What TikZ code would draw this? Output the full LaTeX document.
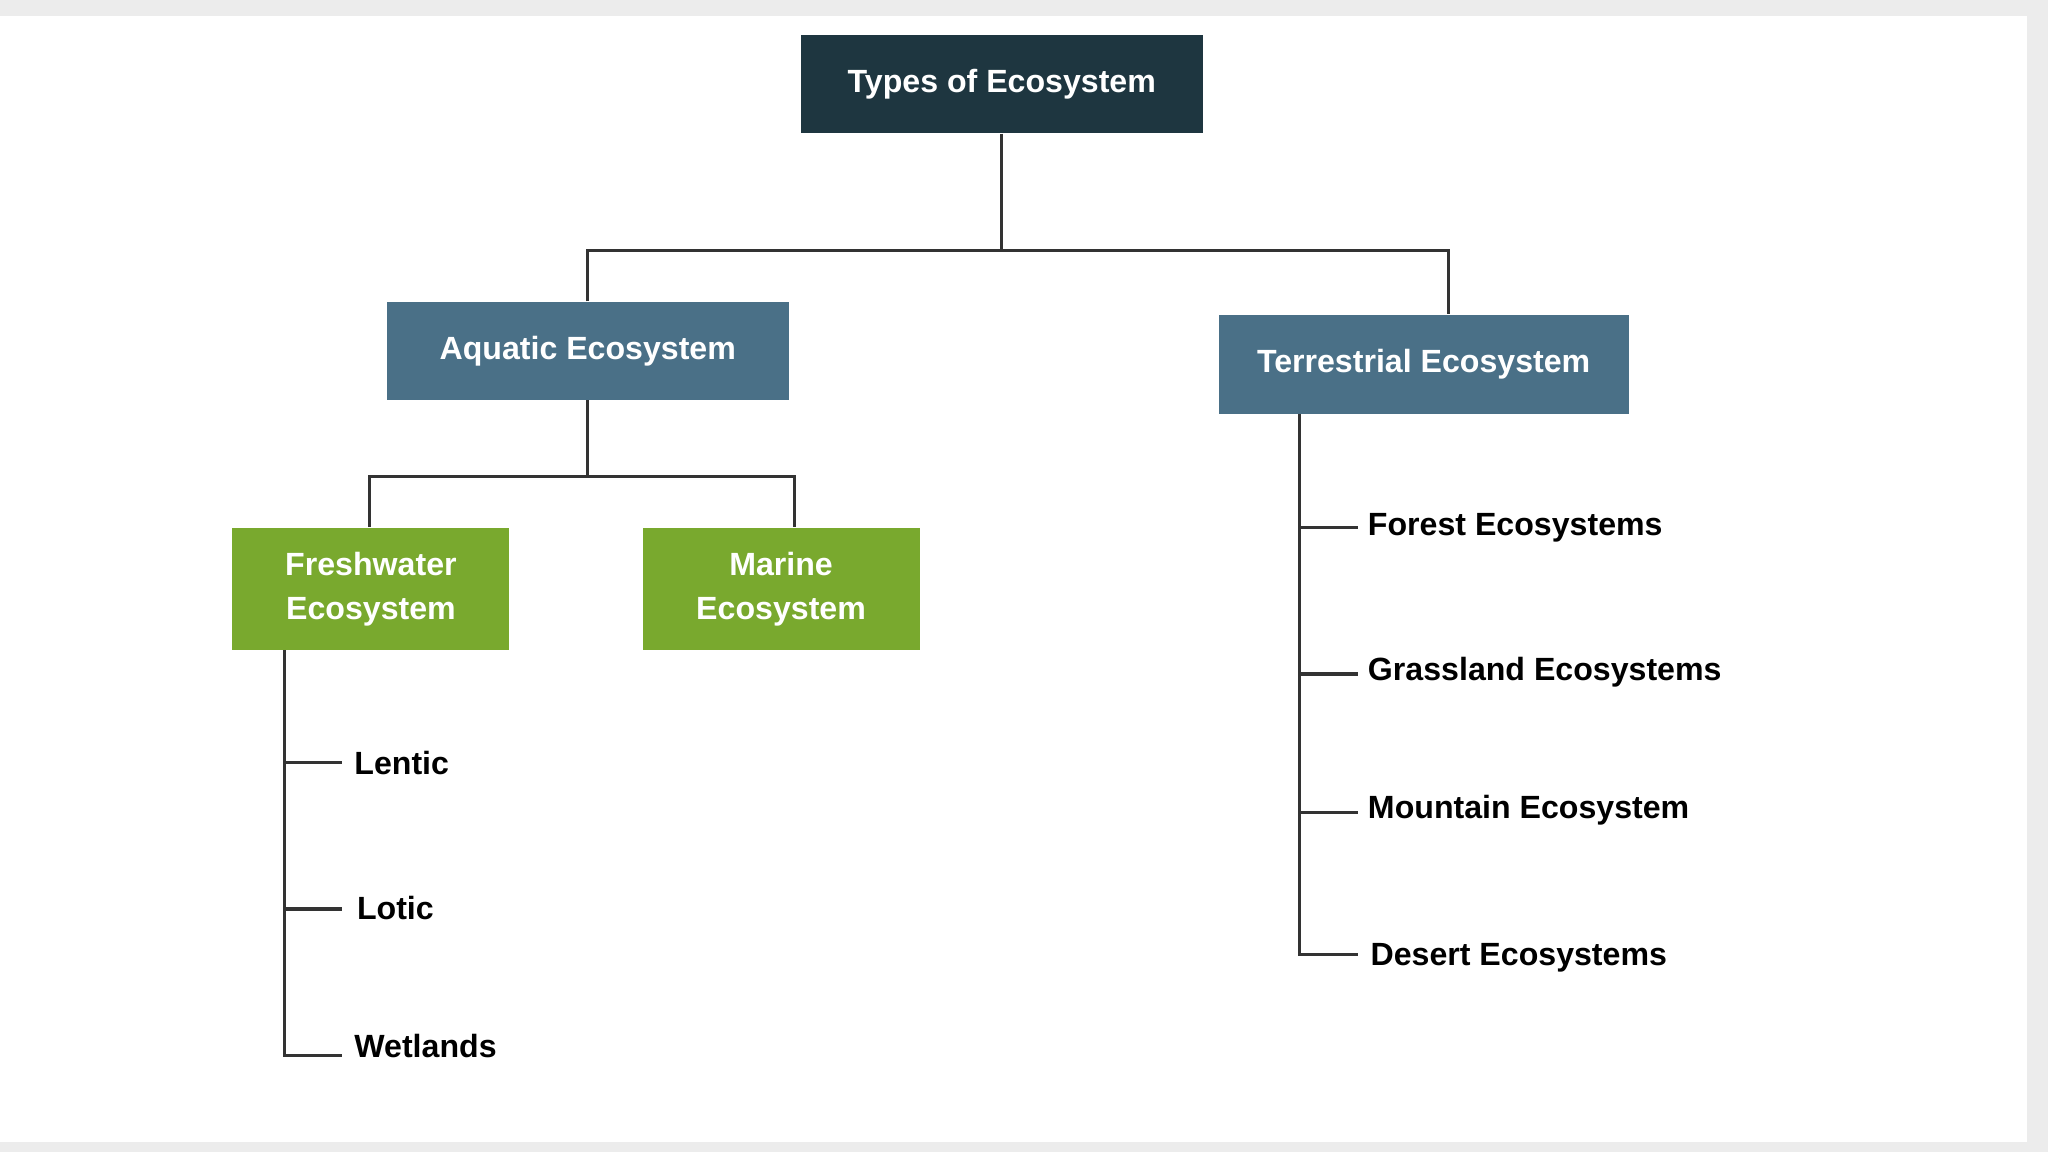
\documentclass[tikz,border=0pt]{standalone}
\usepackage{fontspec}
\setmainfont{Liberation Sans}
\definecolor{topc}{HTML}{1E3640}
\definecolor{midc}{HTML}{4A7087}
\definecolor{grn}{HTML}{79A92E}
\definecolor{ln}{HTML}{333333}
\begin{document}
\begin{tikzpicture}[x=0.02cm,y=-0.02cm,
  box/.style={draw=none,text=white,font=\bfseries\fontsize{14}{19}\selectfont,align=center,inner sep=0pt},
  leaf/.style={anchor=west,font=\bfseries\fontsize{14}{17}\selectfont,text=black,inner sep=0pt},
  conn/.style={draw=ln,line width=1.4pt}]
\fill[gray!15] (0,0) rectangle (1568,882);
\fill[white] (0,12) rectangle (1552,874);
\node[box,fill=topc,minimum width=308*0.02cm,minimum height=75*0.02cm] (top) at (767,64.5) {Types of Ecosystem};
\node[box,fill=midc,minimum width=308*0.02cm,minimum height=75*0.02cm] (aq) at (450,268.5) {Aquatic Ecosystem};
\node[box,fill=midc,minimum width=314*0.02cm,minimum height=76*0.02cm] (te) at (1090,279) {Terrestrial Ecosystem};
\node[box,fill=grn,minimum width=212*0.02cm,minimum height=94*0.02cm] (fw) at (284,451) {Freshwater\\Ecosystem};
\node[box,fill=grn,minimum width=212*0.02cm,minimum height=94*0.02cm] (ma) at (598,451) {Marine\\Ecosystem};
\coordinate (j1) at (767,192);
\coordinate (j2) at (450,365);
\draw[conn] (top.south) -- (j1);
\draw[conn] (aq.north -| 450,0) |- (j1) -| (te.north -| 1109,0);
\draw[conn] (aq.south) -- (j2);
\draw[conn] (fw.north -| 283,0) |- (j2) -| (ma.north -| 608,0);
\node[leaf] (l1) at (271,584) {Lentic};
\node[leaf] (l2) at (273,695) {Lotic};
\node[leaf] (l3) at (271,801) {Wetlands};
\draw[conn] (218,498) -- (218,808) -- (262,808);
\draw[conn] (218,584) -- (262,584);
\draw[conn] (218,696) -- (262,696);
\node[leaf] (t1) at (1047,404) {Forest Ecosystems};
\node[leaf] (t2) at (1047,515) {Grassland Ecosystems};
\node[leaf] (t3) at (1047,620) {Mountain Ecosystem};
\node[leaf] (t4) at (1049,733) {Desert Ecosystems};
\draw[conn] (995,317) -- (995,731) -- (1040,731);
\draw[conn] (995,404) -- (1040,404);
\draw[conn] (995,516) -- (1040,516);
\draw[conn] (995,622) -- (1040,622);
\end{tikzpicture}
\end{document}
